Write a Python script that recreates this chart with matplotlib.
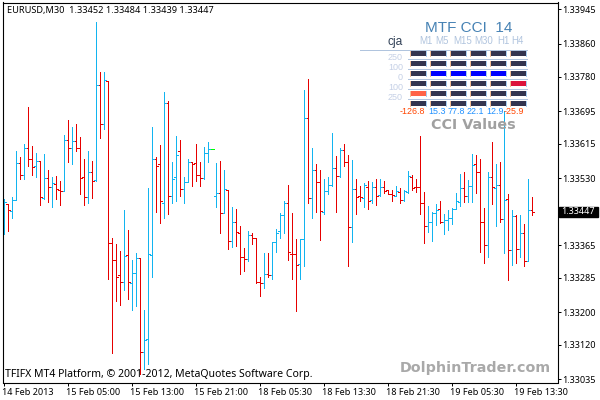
import numpy as np
from matplotlib import pyplot as plt
from matplotlib.patches import Rectangle
from matplotlib.transforms import ScaledTranslation

# prices in 1/100000 units
highs = [133478, 133467, 133484, 133596, 133582, 133615, 133704, 133610, 133593, 133573, 133590, 133549, 133533, 133536, 133522, 133637, 133674, 133657, 133664, 133632, 133576, 133598, 133573, 133915, 133792, 133790, 133770,
         133382, 133367, 133350, 133451, 133402, 133330, 133345, 133333, 133207, 133505, 133657, 133581, 133611, 133743, 133721, 133571, 133633, 133625, 133532, 133576, 133571, 133615, 133569, 133606, 133620, 133602,
         133568, 133573, 133549, 133502, 133458, 133455, 133413, 133359, 133399, 133394, 133383, 133286, 133347, 133345, 133374, 133404, 133445, 133475, 133514, 133445, 133381, 133381, 133748, 133775, 133605, 133566, 133549,
         133527, 133534, 133640, 133584, 133605, 133615, 133588, 133574, 133527, 133510, 133517, 133522, 133520, 133529, 133529, 133522, 133502, 133500, 133512, 133507, 133502, 133547, 133537, 133527, 133633, 133497,
         133461, 133446, 133466, 133473, 133441, 133451, 133456, 133493, 133540, 133545, 133525, 133589, 133586, 133577, 133456, 133545, 133618, 133564, 133569, 133696, 133490, 133451, 133439, 133439, 133417, 133527, 133484]
lows = [133392, 133399, 133432, 133477, 133528, 133528, 133560, 133537, 133532, 133463, 133480, 133471, 133458, 133480, 133465, 133498, 133571, 133566, 133598, 133492, 133463, 133470, 133482, 133524, 133628, 133652, 133283,
        133099, 133229, 133217, 133256, 133234, 133205, 133215, 133049, 133062, 133074, 133288, 133448, 133421, 133433, 133443, 133470, 133475, 133485, 133470, 133522, 133512, 133524, 133510, 133529, 133569, 133602,
        133460, 133396, 133444, 133357, 133362, 133364, 133295, 133303, 133326, 133367, 133273, 133241, 133261, 133286, 133283, 133349, 133384, 133394, 133330, 133281, 133204, 133283, 133313, 133468, 133431, 133448, 133379,
        133443, 133490, 133512, 133448, 133534, 133561, 133313, 133374, 133443, 133475, 133458, 133453, 133470, 133465, 133485, 133493, 133490, 133475, 133485, 133470, 133473, 133493, 133502, 133497, 133443, 133370,
        133397, 133375, 133414, 133419, 133392, 133402, 133417, 133454, 133461, 133471, 133471, 133471, 133493, 133348, 133321, 133336, 133466, 133412, 133422, 133345, 133279, 133316, 133321, 133336, 133313, 133326, 133439]
opens = [133438, 133467, 133450, 133477, 133568, 133538, 133605, 133578, 133560, 133573, 133481, 133531, 133509, 133516, 133502, 133499, 133624, 133605, 133622, 133605, 133533, 133484, 133546, 133526, 133760, 133664, 133770,
         133371, 133329, 133291, 133275, 133342, 133273, 133297, 133333, 133103, 133135, 133342, 133578, 133564, 133470, 133714, 133487, 133532, 133596, 133504, 133521, 133569, 133567, 133539, 133531, 133593, 133602,
         133486, 133494, 133445, 133502, 133376, 133422, 133396, 133336, 133331, 133390, 133382, 133274, 133272, 133295, 133292, 133373, 133400, 133440, 133470, 133344, 133344, 133319, 133381, 133679, 133481, 133550, 133521,
         133447, 133499, 133514, 133556, 133536, 133600, 133570, 133411, 133504, 133487, 133482, 133509, 133477, 133509, 133489, 133509, 133501, 133492, 133487, 133497, 133477, 133495, 133534, 133509, 133509, 133470,
         133413, 133423, 133445, 133454, 133422, 133426, 133433, 133455, 133472, 133505, 133485, 133510, 133564, 133545, 133422, 133365, 133532, 133505, 133513, 133429, 133478, 133353, 133436, 133355, 133394, 133327, 133452]
closes = [133471, 133452, 133477, 133568, 133538, 133605, 133578, 133558, 133573, 133484, 133531, 133509, 133519, 133504, 133499, 133624, 133605, 133622, 133605, 133531, 133484, 133546, 133523, 133760, 133664, 133772, 133371,
          133329, 133288, 133275, 133339, 133275, 133297, 133333, 133103, 133133, 133344, 133578, 133561, 133473, 133714, 133487, 133529, 133586, 133504, 133521, 133571, 133566, 133539, 133531, 133593, 133601, 133602,
          133494, 133445, 133504, 133376, 133422, 133398, 133336, 133331, 133390, 133383, 133274, 133272, 133295, 133292, 133373, 133395, 133440, 133470, 133349, 133344, 133317, 133381, 133679, 133481, 133549, 133521, 133449,
          133499, 133514, 133556, 133536, 133600, 133570, 133411, 133504, 133484, 133483, 133514, 133474, 133509, 133487, 133509, 133499, 133492, 133489, 133499, 133477, 133499, 133536, 133506, 133509, 133470, 133413,
          133423, 133445, 133451, 133422, 133426, 133433, 133455, 133475, 133505, 133485, 133510, 133562, 133545, 133422, 133365, 133532, 133508, 133513, 133429, 133476, 133353, 133438, 133355, 133394, 133327, 133451, 133447]

price_ticks = [1.33945, 1.33860, 1.33780, 1.33695, 1.33615, 1.33530, 1.33365, 1.33285, 1.33200, 1.33120, 1.33035]
time_labels = ["14 Feb 2013", "15 Feb 05:00", "15 Feb 13:00", "15 Feb 21:00", "18 Feb 05:30",
               "18 Feb 13:30", "18 Feb 21:30", "19 Feb 05:30", "19 Feb 13:30"]
last_price = 1.33447

timeframes = ["M1", "M5", "M15", "M30", "H1", "H4"]
cci_values = [-126.8, 15.3, 77.8, 22.1, 12.9, -25.9]
cci_levels = ["250", "100", "0", "100", "250"]
# row of the signal cell per timeframe
active_rows = [4, 2, 2, 2, 2, 3]
active_colours = ["#ff6347", "#0000ff", "#0000ff", "#0000ff", "#0000ff", "#dc143c"]

UP = "#12b4f0"
DOWN = "#e60000"
MONO = "Noto Sans"
ARIAL = "Liberation Sans"

highs = np.array(highs) / 1e5
lows = np.array(lows) / 1e5
opens = np.array(opens) / 1e5
closes = np.array(closes) / 1e5
xs = np.arange(len(highs))

fig = plt.figure(figsize=(6, 4), dpi=100)
ax = fig.add_axes([2.5 / 600, 17.5 / 400, 555 / 600, 380 / 400])

colours = []
for o, c, h, l in zip(opens, closes, highs, lows):
    if h == l:
        colours.append("#00ff00")
    elif c > o:
        colours.append(UP)
    else:
        colours.append(DOWN)

ax.vlines(xs, lows, highs, colors=colours, linewidth=0.72, antialiased=False)
ax.hlines(opens, xs - 0.5, xs, colors=colours, linewidth=0.72, antialiased=False)
ax.hlines(closes, xs, xs + 0.5, colors=colours, linewidth=0.72, antialiased=False)

ax.set_xlim(-0.25, 138.5)
ax.set_ylim(1.330276, 1.33962)

ax.yaxis.tick_right()
ax.set_yticks(price_ticks + [last_price])
ax.set_yticklabels([f"{p:.5f}" for p in price_ticks] + [""], fontfamily=MONO, fontsize=6.5)
ax.set_xticks(np.arange(len(time_labels)) * 16)
ax.set_xticklabels(time_labels, fontfamily=MONO, fontsize=6.5, ha="left")
ax.tick_params(axis="both", length=2.2, width=0.72, pad=1.5, color="black")
ax.tick_params(axis="y", pad=1.0)
shift = ScaledTranslation(-1.5 / 100, 0, fig.dpi_scale_trans)
for lab in ax.get_xticklabels():
    lab.set_transform(lab.get_transform() + shift)
for side in ax.spines.values():
    side.set_linewidth(0.8)

# overlay in pixels for the labels and the CCI panel
over = fig.add_axes([0, 0, 1, 1], facecolor="none")
over.set_xlim(0, 600)
over.set_ylim(400, 0)
over.axis("off")

over.text(578, 212, f"{last_price:.5f}", color="white", fontfamily=MONO, fontsize=6.5,
          ha="center", va="center", zorder=3)
over.add_patch(Rectangle((559, 207), 38.5, 10, color="black", zorder=2))

over.text(7, 11, "EURUSD,M30  1.33452 1.33484 1.33439 1.33447", fontfamily=MONO, fontsize=6.6,
          color="black", va="center")
over.text(5, 375, "TFIFX MT4 Platform, © 2001-2012, MetaQuotes Software Corp.", fontfamily=MONO,
          fontsize=7.55, color="black", va="center")
over.text(400, 368, "DolphinTrader.com", fontfamily="DejaVu Sans", fontweight="bold", fontsize=10.3,
          color="#a9a9a9", va="center")

# panel
over.text(469, 28, "MTF CCI  14", fontfamily=ARIAL, fontsize=11, color="#4682b4", ha="center", va="center")
over.text(388, 42, "cja", fontfamily=ARIAL, fontsize=8.6, color="#2f3f55", va="center")
header_x = [419, 435, 453, 474, 497, 511]
for name, x in zip(timeframes, header_x):
    over.text(x, 41.5, name, fontfamily=ARIAL, fontsize=7, color="#b0c4de", va="center")

over.plot([360, 527], [49.5, 49.5], color="#b0c4de", lw=0.72)
for k, level in enumerate(cci_levels):
    y = 58.5 + 10 * k
    over.plot([408, 527], [y, y], color="#b0c4de", lw=0.72)
    over.text(403, y - 1, level, fontfamily=ARIAL, fontsize=6.5, color="#c5d0e6", ha="right", va="center")

for col in range(len(timeframes)):
    left = 410 + 20 * col
    for row in range(6):
        top = 51 + 10 * row
        face = active_colours[col] if row == active_rows[col] else "#33344f"
        over.add_patch(Rectangle((left, top), 15.5, 5, facecolor=face, edgecolor="none"))
        over.plot([left - 0.5, left - 0.5], [top, top + 5], color="#f2bc94", lw=0.72)
        over.plot([left + 16, left + 16], [top, top + 5], color="#a8cdf0", lw=0.72)

value_x = [412, 437, 456, 475, 495, 514]
for val, x in zip(cci_values, value_x):
    col = "#ff4500" if val < 0 else "#1e90ff"
    over.text(x, 112, f"{val:.1f}", fontfamily=ARIAL, fontsize=6.4, color=col, ha="center", va="center")

over.text(473, 125, "CCI Values", fontfamily="DejaVu Sans", fontweight="bold", fontsize=10.3,
          color="#a0a0a0", ha="center", va="center")

fig.savefig("out.png", dpi=100)
